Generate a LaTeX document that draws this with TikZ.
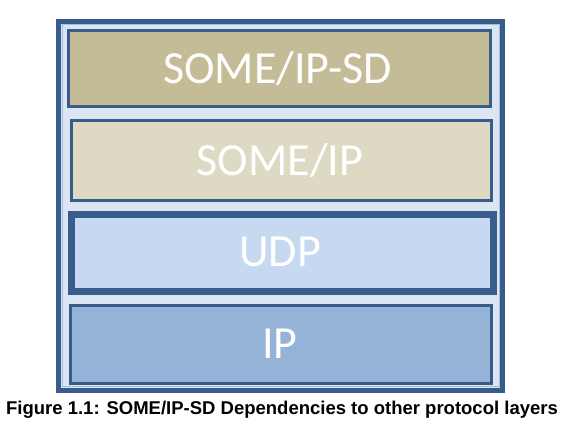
\documentclass[tikz,border=0pt]{standalone}
\usepackage{fontspec}
\setmainfont{Liberation Sans}
\newfontfamily\boxfont{Carlito}
\definecolor{frameblue}{HTML}{385D8A}
\definecolor{framefill}{HTML}{DCE6F2}
\definecolor{frameinner}{HTML}{A7BCD8}
\definecolor{sdfill}{HTML}{C4BC96}
\definecolor{somefill}{HTML}{DDD9C3}
\definecolor{udpfill}{HTML}{C6D9F1}
\definecolor{ipfill}{HTML}{95B3D7}
\tikzset{
  layer/.style={draw=frameblue, rectangle, inner sep=0pt},
  layertext/.style={text=white, inner sep=0pt, font=\boxfont\fontsize{46}{46}\selectfont},
  caption/.style={font=\bfseries\fontsize{18.5}{20}\selectfont, text=black, inner sep=0pt}
}
\begin{document}
\begin{tikzpicture}[x=1pt,y=-1pt]
\useasboundingbox[fill=white] (0,0) rectangle (576,430);
\node[draw=frameblue, fill=framefill, line width=5pt, minimum width=444pt, minimum height=369pt, inner sep=0pt] (frame) at (280.5,206) {};
\node[draw=frameinner, line width=1pt, minimum width=437pt, minimum height=362pt, inner sep=0pt] (frameline) at (280.5,206) {};
\node[layer, fill=sdfill, line width=3pt, minimum width=422pt, minimum height=76pt] (sd) at (279.5,68.5) {};
\node[layertext] (sdtext) at (277.5,69) {SOME/IP-SD};
\node[layer, fill=somefill, line width=3.5pt, minimum width=420pt, minimum height=80pt] (someip) at (281.5,160.5) {};
\node[layertext] (sometext) at (280,161) {SOME/IP};
\node[layer, fill=udpfill, line width=7pt, minimum width=422pt, minimum height=77pt] (udp) at (282.5,253) {};
\node[layertext] (udptext) at (280,252) {UDP};
\node[layer, fill=ipfill, line width=3pt, minimum width=421pt, minimum height=78pt] (ip) at (281,344.5) {};
\node[layertext] (iptext) at (280,344) {IP};
\node[caption] (cap) at (282,410) {Figure 1.1: SOME/IP-SD Dependencies to other protocol layers};
\end{tikzpicture}
\end{document}
